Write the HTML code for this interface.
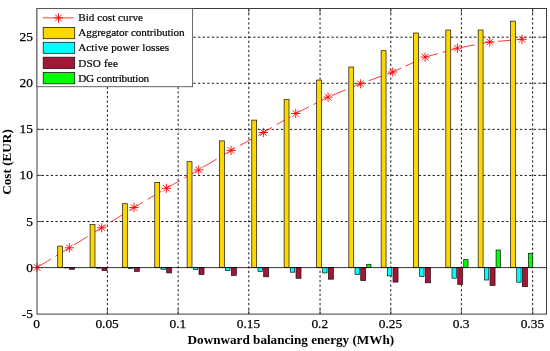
<!DOCTYPE html>
<html><head><meta charset="utf-8"><title>Chart</title><style>html,body{margin:0;padding:0;background:#fff}</style></head><body>
<svg width="550" height="351" viewBox="0 0 550 351" style="display:block">
<rect width="550" height="351" fill="#fff"/>
<g stroke="#000" stroke-width="0.9" stroke-dasharray="2.3 2.3" fill="none">
<line x1="107.4" y1="8.5" x2="107.4" y2="314.1"/>
<line x1="178.15" y1="8.5" x2="178.15" y2="314.1"/>
<line x1="248.8" y1="8.5" x2="248.8" y2="314.1"/>
<line x1="320.05" y1="8.5" x2="320.05" y2="314.1"/>
<line x1="390.8" y1="8.5" x2="390.8" y2="314.1"/>
<line x1="461.4" y1="8.5" x2="461.4" y2="314.1"/>
<line x1="532.67" y1="8.5" x2="532.67" y2="314.1"/>
<line x1="37.0" y1="221.52" x2="546.5" y2="221.52"/>
<line x1="37.0" y1="175.44" x2="546.5" y2="175.44"/>
<line x1="37.0" y1="129.36" x2="546.5" y2="129.36"/>
<line x1="37.0" y1="83.28" x2="546.5" y2="83.28"/>
<line x1="37.0" y1="37.2" x2="546.5" y2="37.2"/>
</g>
<path d="M37.00 267.50L50.80 259.09M55.43 256.27L69.23 247.87M73.86 245.00L87.66 236.47M92.29 233.61L101.68 227.80L106.09 225.03M110.72 222.13L124.52 213.46M129.15 210.56L134.02 207.50L142.95 202.20M147.58 199.45L161.38 191.26M166.01 188.51L166.36 188.30L179.81 180.65M184.44 178.01L198.24 170.16M202.87 167.39L216.67 159.06M221.30 156.27L231.04 150.40L235.10 148.15M239.73 145.59L253.53 137.95M258.16 135.39L263.38 132.50L271.96 127.46M276.59 124.74L290.39 116.63M295.02 113.91L295.72 113.50L308.82 106.86M313.45 104.51L327.25 97.51M331.88 95.53L345.68 89.85M350.31 87.95L360.40 83.80L364.11 82.45M368.74 80.76L382.54 75.72M387.17 74.03L392.74 72.00L400.97 68.21M405.60 66.08L419.40 59.72M424.03 57.58L425.08 57.10L437.83 53.59M442.46 52.32L456.26 48.52M460.89 47.53L474.69 44.89M479.32 44.00L489.76 42.00L493.12 41.72M497.75 41.33L511.55 40.18M516.18 39.79L522.10 39.30" fill="none" stroke="#ff0000" stroke-width="0.78"/>
<path d="M32.40 267.50H41.60M37.00 262.90V272.10M33.75 264.25L40.25 270.75M33.75 270.75L40.25 264.25" stroke="#ff0000" stroke-width="0.9" fill="none"/>
<path d="M64.74 247.80H73.94M69.34 243.20V252.40M66.09 244.55L72.59 251.05M66.09 251.05L72.59 244.55" stroke="#ff0000" stroke-width="0.9" fill="none"/>
<path d="M97.08 227.80H106.28M101.68 223.20V232.40M98.43 224.55L104.93 231.05M98.43 231.05L104.93 224.55" stroke="#ff0000" stroke-width="0.9" fill="none"/>
<path d="M129.42 207.50H138.62M134.02 202.90V212.10M130.77 204.25L137.27 210.75M130.77 210.75L137.27 204.25" stroke="#ff0000" stroke-width="0.9" fill="none"/>
<path d="M161.76 188.30H170.96M166.36 183.70V192.90M163.11 185.05L169.61 191.55M163.11 191.55L169.61 185.05" stroke="#ff0000" stroke-width="0.9" fill="none"/>
<path d="M194.10 169.90H203.30M198.70 165.30V174.50M195.45 166.65L201.95 173.15M195.45 173.15L201.95 166.65" stroke="#ff0000" stroke-width="0.9" fill="none"/>
<path d="M226.44 150.40H235.64M231.04 145.80V155.00M227.79 147.15L234.29 153.65M227.79 153.65L234.29 147.15" stroke="#ff0000" stroke-width="0.9" fill="none"/>
<path d="M258.78 132.50H267.98M263.38 127.90V137.10M260.13 129.25L266.63 135.75M260.13 135.75L266.63 129.25" stroke="#ff0000" stroke-width="0.9" fill="none"/>
<path d="M291.12 113.50H300.32M295.72 108.90V118.10M292.47 110.25L298.97 116.75M292.47 116.75L298.97 110.25" stroke="#ff0000" stroke-width="0.9" fill="none"/>
<path d="M323.46 97.10H332.66M328.06 92.50V101.70M324.81 93.85L331.31 100.35M324.81 100.35L331.31 93.85" stroke="#ff0000" stroke-width="0.9" fill="none"/>
<path d="M355.80 83.80H365.00M360.40 79.20V88.40M357.15 80.55L363.65 87.05M357.15 87.05L363.65 80.55" stroke="#ff0000" stroke-width="0.9" fill="none"/>
<path d="M388.14 72.00H397.34M392.74 67.40V76.60M389.49 68.75L395.99 75.25M389.49 75.25L395.99 68.75" stroke="#ff0000" stroke-width="0.9" fill="none"/>
<path d="M420.48 57.10H429.68M425.08 52.50V61.70M421.83 53.85L428.33 60.35M421.83 60.35L428.33 53.85" stroke="#ff0000" stroke-width="0.9" fill="none"/>
<path d="M452.82 48.20H462.02M457.42 43.60V52.80M454.17 44.95L460.67 51.45M454.17 51.45L460.67 44.95" stroke="#ff0000" stroke-width="0.9" fill="none"/>
<path d="M485.16 42.00H494.36M489.76 37.40V46.60M486.51 38.75L493.01 45.25M486.51 45.25L493.01 38.75" stroke="#ff0000" stroke-width="0.9" fill="none"/>
<path d="M517.50 39.30H526.70M522.10 34.70V43.90M518.85 36.05L525.35 42.55M518.85 42.55L525.35 36.05" stroke="#ff0000" stroke-width="0.9" fill="none"/>
<rect x="57.74" y="246.10" width="4.90" height="21.50" fill="#ffd700" stroke="#111" stroke-width="0.7"/>
<rect x="63.94" y="267.60" width="4.40" height="0.30" fill="#00ffff" stroke="#111" stroke-width="0.7"/>
<rect x="69.64" y="267.60" width="5.00" height="1.70" fill="#a41636" stroke="#111" stroke-width="0.7"/>
<rect x="90.08" y="224.60" width="4.90" height="43.00" fill="#ffd700" stroke="#111" stroke-width="0.7"/>
<rect x="96.28" y="267.60" width="4.40" height="0.50" fill="#00ffff" stroke="#111" stroke-width="0.7"/>
<rect x="101.98" y="267.60" width="5.00" height="3.00" fill="#a41636" stroke="#111" stroke-width="0.7"/>
<rect x="122.42" y="203.70" width="4.90" height="63.90" fill="#ffd700" stroke="#111" stroke-width="0.7"/>
<rect x="128.62" y="267.60" width="4.40" height="0.80" fill="#00ffff" stroke="#111" stroke-width="0.7"/>
<rect x="134.32" y="267.60" width="5.00" height="3.80" fill="#a41636" stroke="#111" stroke-width="0.7"/>
<rect x="154.76" y="182.50" width="4.90" height="85.10" fill="#ffd700" stroke="#111" stroke-width="0.7"/>
<rect x="160.96" y="267.60" width="4.40" height="1.65" fill="#00ffff" stroke="#111" stroke-width="0.7"/>
<rect x="166.66" y="267.60" width="5.00" height="5.30" fill="#a41636" stroke="#111" stroke-width="0.7"/>
<rect x="187.10" y="161.70" width="4.90" height="105.90" fill="#ffd700" stroke="#111" stroke-width="0.7"/>
<rect x="193.30" y="267.60" width="4.40" height="1.90" fill="#00ffff" stroke="#111" stroke-width="0.7"/>
<rect x="199.00" y="267.60" width="5.00" height="7.00" fill="#a41636" stroke="#111" stroke-width="0.7"/>
<rect x="219.44" y="140.90" width="4.90" height="126.70" fill="#ffd700" stroke="#111" stroke-width="0.7"/>
<rect x="225.64" y="267.60" width="4.40" height="3.00" fill="#00ffff" stroke="#111" stroke-width="0.7"/>
<rect x="231.34" y="267.60" width="5.00" height="7.80" fill="#a41636" stroke="#111" stroke-width="0.7"/>
<rect x="251.78" y="120.10" width="4.90" height="147.50" fill="#ffd700" stroke="#111" stroke-width="0.7"/>
<rect x="257.98" y="267.60" width="4.40" height="3.80" fill="#00ffff" stroke="#111" stroke-width="0.7"/>
<rect x="263.68" y="267.60" width="5.00" height="9.20" fill="#a41636" stroke="#111" stroke-width="0.7"/>
<rect x="284.12" y="99.30" width="4.90" height="168.30" fill="#ffd700" stroke="#111" stroke-width="0.7"/>
<rect x="290.32" y="267.60" width="4.40" height="4.60" fill="#00ffff" stroke="#111" stroke-width="0.7"/>
<rect x="296.02" y="267.60" width="5.00" height="10.70" fill="#a41636" stroke="#111" stroke-width="0.7"/>
<rect x="316.46" y="80.10" width="4.90" height="187.50" fill="#ffd700" stroke="#111" stroke-width="0.7"/>
<rect x="322.66" y="267.60" width="4.40" height="5.30" fill="#00ffff" stroke="#111" stroke-width="0.7"/>
<rect x="328.36" y="267.60" width="5.00" height="11.60" fill="#a41636" stroke="#111" stroke-width="0.7"/>
<rect x="348.80" y="67.00" width="4.90" height="200.60" fill="#ffd700" stroke="#111" stroke-width="0.7"/>
<rect x="355.00" y="267.60" width="4.40" height="6.90" fill="#00ffff" stroke="#111" stroke-width="0.7"/>
<rect x="360.70" y="267.60" width="5.00" height="13.00" fill="#a41636" stroke="#111" stroke-width="0.7"/>
<rect x="366.70" y="264.30" width="4.30" height="3.30" fill="#00ff00" stroke="#111" stroke-width="0.7"/>
<rect x="381.14" y="50.70" width="4.90" height="216.90" fill="#ffd700" stroke="#111" stroke-width="0.7"/>
<rect x="387.34" y="267.60" width="4.40" height="8.30" fill="#00ffff" stroke="#111" stroke-width="0.7"/>
<rect x="393.04" y="267.60" width="5.00" height="14.50" fill="#a41636" stroke="#111" stroke-width="0.7"/>
<rect x="413.48" y="33.00" width="4.90" height="234.60" fill="#ffd700" stroke="#111" stroke-width="0.7"/>
<rect x="419.68" y="267.60" width="4.40" height="9.00" fill="#00ffff" stroke="#111" stroke-width="0.7"/>
<rect x="425.38" y="267.60" width="5.00" height="15.20" fill="#a41636" stroke="#111" stroke-width="0.7"/>
<rect x="445.82" y="30.00" width="4.90" height="237.60" fill="#ffd700" stroke="#111" stroke-width="0.7"/>
<rect x="452.02" y="267.60" width="4.40" height="10.60" fill="#00ffff" stroke="#111" stroke-width="0.7"/>
<rect x="457.72" y="267.60" width="5.00" height="16.90" fill="#a41636" stroke="#111" stroke-width="0.7"/>
<rect x="463.72" y="259.60" width="4.30" height="8.00" fill="#00ff00" stroke="#111" stroke-width="0.7"/>
<rect x="478.16" y="30.00" width="4.90" height="237.60" fill="#ffd700" stroke="#111" stroke-width="0.7"/>
<rect x="484.36" y="267.60" width="4.40" height="12.40" fill="#00ffff" stroke="#111" stroke-width="0.7"/>
<rect x="490.06" y="267.60" width="5.00" height="17.90" fill="#a41636" stroke="#111" stroke-width="0.7"/>
<rect x="496.06" y="250.00" width="4.30" height="17.60" fill="#00ff00" stroke="#111" stroke-width="0.7"/>
<rect x="510.50" y="21.10" width="4.90" height="246.50" fill="#ffd700" stroke="#111" stroke-width="0.7"/>
<rect x="516.70" y="267.60" width="4.40" height="14.60" fill="#00ffff" stroke="#111" stroke-width="0.7"/>
<rect x="522.40" y="267.60" width="5.00" height="19.10" fill="#a41636" stroke="#111" stroke-width="0.7"/>
<rect x="528.40" y="253.30" width="4.30" height="14.30" fill="#00ff00" stroke="#111" stroke-width="0.7"/>
<line x1="37.0" y1="267.6" x2="546.5" y2="267.6" stroke="#000" stroke-width="0.8"/>
<rect x="37.0" y="8.5" width="509.5" height="305.6" fill="none" stroke="#3c3c3c" stroke-width="1.0"/>
<g stroke="#444" stroke-width="0.9">
<line x1="107.4" y1="314.1" x2="107.4" y2="309.1"/><line x1="107.4" y1="8.5" x2="107.4" y2="13.5"/>
<line x1="178.15" y1="314.1" x2="178.15" y2="309.1"/><line x1="178.15" y1="8.5" x2="178.15" y2="13.5"/>
<line x1="248.8" y1="314.1" x2="248.8" y2="309.1"/><line x1="248.8" y1="8.5" x2="248.8" y2="13.5"/>
<line x1="320.05" y1="314.1" x2="320.05" y2="309.1"/><line x1="320.05" y1="8.5" x2="320.05" y2="13.5"/>
<line x1="390.8" y1="314.1" x2="390.8" y2="309.1"/><line x1="390.8" y1="8.5" x2="390.8" y2="13.5"/>
<line x1="461.4" y1="314.1" x2="461.4" y2="309.1"/><line x1="461.4" y1="8.5" x2="461.4" y2="13.5"/>
<line x1="532.67" y1="314.1" x2="532.67" y2="309.1"/><line x1="532.67" y1="8.5" x2="532.67" y2="13.5"/>
<line x1="37.0" y1="221.52" x2="42.0" y2="221.52"/><line x1="546.5" y1="221.52" x2="541.5" y2="221.52"/>
<line x1="37.0" y1="175.44" x2="42.0" y2="175.44"/><line x1="546.5" y1="175.44" x2="541.5" y2="175.44"/>
<line x1="37.0" y1="129.36" x2="42.0" y2="129.36"/><line x1="546.5" y1="129.36" x2="541.5" y2="129.36"/>
<line x1="37.0" y1="83.28" x2="42.0" y2="83.28"/><line x1="546.5" y1="83.28" x2="541.5" y2="83.28"/>
<line x1="37.0" y1="37.2" x2="42.0" y2="37.2"/><line x1="546.5" y1="37.2" x2="541.5" y2="37.2"/>
<line x1="37.0" y1="267.6" x2="42.0" y2="267.6"/><line x1="546.5" y1="267.6" x2="541.5" y2="267.6"/>
</g>
<g font-family="'Liberation Serif', serif" font-size="13.4" fill="#000" stroke="#000" stroke-width="0.25">
<text x="36.70" y="327.8" text-anchor="middle">0</text>
<text x="107.10" y="327.8" text-anchor="middle">0.05</text>
<text x="177.85" y="327.8" text-anchor="middle">0.1</text>
<text x="248.50" y="327.8" text-anchor="middle">0.15</text>
<text x="319.75" y="327.8" text-anchor="middle">0.2</text>
<text x="390.50" y="327.8" text-anchor="middle">0.25</text>
<text x="461.10" y="327.8" text-anchor="middle">0.3</text>
<text x="532.37" y="327.8" text-anchor="middle">0.35</text>
<text x="33.0" y="317.8" text-anchor="end">-5</text>
<text x="33.0" y="271.6" text-anchor="end">0</text>
<text x="33.0" y="225.5" text-anchor="end">5</text>
<text x="33.0" y="179.4" text-anchor="end">10</text>
<text x="33.0" y="133.4" text-anchor="end">15</text>
<text x="33.0" y="87.3" text-anchor="end">20</text>
<text x="33.0" y="41.2" text-anchor="end">25</text>
</g>
<g font-family="'Liberation Serif', serif" font-size="13.2" font-weight="bold" fill="#000">
<text x="290.9" y="344.3" text-anchor="middle" textLength="206.6">Downward balancing energy (MWh)</text>
<text transform="translate(11,162.0) rotate(-90)" text-anchor="middle">Cost (EUR)</text>
</g>
<rect x="37.0" y="8.6" width="155.6" height="78.1" fill="#fff" stroke="#555" stroke-width="0.9"/>
<line x1="42.8" y1="17.9" x2="73.6" y2="17.9" stroke="#ff0000" stroke-width="0.78"/>
<path d="M53.90 17.90H63.10M58.50 13.30V22.50M55.25 14.65L61.75 21.15M55.25 21.15L61.75 14.65" stroke="#ff0000" stroke-width="0.9" fill="none"/>
<rect x="43.2" y="27.4" width="31.5" height="11.3" fill="#ffd700" stroke="#111" stroke-width="0.75"/>
<rect x="43.2" y="42.3" width="31.5" height="11.0" fill="#00ffff" stroke="#111" stroke-width="0.75"/>
<rect x="43.2" y="57.2" width="31.5" height="11.4" fill="#a41636" stroke="#111" stroke-width="0.75"/>
<rect x="43.2" y="72.5" width="31.5" height="11.3" fill="#00ff00" stroke="#111" stroke-width="0.75"/>
<g font-family="'Liberation Serif', serif" font-size="11.2" fill="#000" stroke="#000" stroke-width="0.2">
<text x="78.2" y="20.9" textLength="64.8">Bid cost curve</text>
<text x="78.2" y="36.1" textLength="106.3">Aggregator contribution</text>
<text x="78.2" y="51.3" textLength="91.0">Active power losses</text>
<text x="78.2" y="66.6" textLength="39.7">DSO fee</text>
<text x="78.2" y="81.8" textLength="71.0">DG contribution</text>
</g>
</svg>
</body></html>
